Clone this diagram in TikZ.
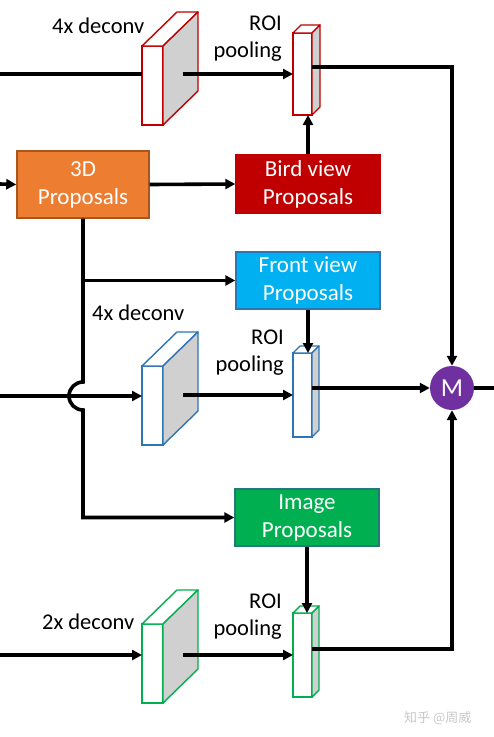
\documentclass[tikz,border=0pt]{standalone}
\usepackage{fontspec}
\setmainfont{Carlito}
\newfontfamily\cjkfont{Noto Sans CJK SC}
\usetikzlibrary{arrows.meta}
\definecolor{redbox}{HTML}{C00000}
\definecolor{orangebox}{HTML}{ED7D31}
\definecolor{orangeedge}{HTML}{A8561E}
\definecolor{bluebox}{HTML}{00B0F0}
\definecolor{blueedge}{HTML}{2E75B6}
\definecolor{greenbox}{HTML}{00B050}
\definecolor{greenedge}{HTML}{22787A}
\definecolor{mpurple}{HTML}{7030A0}
\definecolor{sidegray}{HTML}{D0D0D0}
\definecolor{wmgray}{HTML}{C8C8C8}
\newcommand\mycuboid[8]{%
  \node[draw=#8, line width=1.4pt, fill=white, minimum width=#4pt, minimum height=#5pt, inner sep=0pt, outer sep=0pt] (#1) at (#2,#3) {};
  \filldraw[draw=#8, fill=white, line width=1.4pt, line join=round] (#1.north west) -- ++(#6,#7) -- ++(#4,0) -- (#1.north east) -- cycle;
  \filldraw[draw=#8, fill=sidegray, line width=1.4pt, line join=round] (#1.north east) -- ++(#6,#7) -- ++(0,#5) -- (#1.south east) -- cycle;
}
\tikzset{
  wire/.style={line width=3.6pt, line join=miter},
  arr/.style={wire, -{Triangle[length=10pt,width=10pt]}},
  prop/.style={minimum width=144pt, minimum height=58pt, inner sep=0pt, line width=1.4pt, text=white, align=center, font=\fontsize{23}{28}\selectfont},
  lbl/.style={font=\fontsize{22.5}{27}\selectfont, inner sep=0pt},
}
\begin{document}
\begin{tikzpicture}[x=1pt,y=-1pt]
\useasboundingbox (0,0) rectangle (494,737);
% proposals
\node[prop, fill=orangebox, draw=orangeedge, minimum width=132pt, minimum height=67pt] (p3d) at (83,184.5) {3D\\Proposals};
\node[prop, fill=redbox, draw=redbox] (bird) at (308,184) {Bird view\\Proposals};
\node[prop, fill=bluebox, draw=blueedge, minimum height=57pt] (front) at (308,280.5) {Front view\\Proposals};
\node[prop, fill=greenbox, draw=greenedge, minimum height=57pt] (image) at (307,517.5) {Image\\Proposals};
% merge
\node[circle, fill=mpurple, minimum size=44pt, inner sep=0pt, text=white, font=\fontsize{26}{30}\selectfont] (M) at (452,388) {M};
% cuboids
\mycuboid{d1}{152.5}{85.5}{21}{79}{35}{-34}{redbox}
\mycuboid{d2}{152.5}{405.5}{21}{79}{35}{-34}{blueedge}
\mycuboid{d3}{152.5}{663.5}{21}{79}{35}{-34}{greenbox}
\mycuboid{r1}{302.5}{74}{19}{82}{8}{-8}{redbox}
\mycuboid{r2}{302.5}{395}{19}{84}{7}{-7}{blueedge}
\mycuboid{r3}{302.5}{655}{19}{84}{7}{-7}{greenbox}
% labels
\node[lbl, anchor=base west] (l1) at (52,33) {4x deconv};
\node[lbl, anchor=base east, align=right] (l2) at (282,57) {ROI\\pooling};
\node[lbl, anchor=base west] (l3) at (92,320) {4x deconv};
\node[lbl, anchor=base east, align=right] (l4) at (284,371) {ROI\\pooling};
\node[lbl, anchor=base west] (l5) at (42,629) {2x deconv};
\node[lbl, anchor=base east, align=right] (l6) at (282,635) {ROI\\pooling};
\node[anchor=base west, inner sep=0pt, text=wmgray, font=\cjkfont\fontsize{13}{15}\selectfont] (wm) at (404,722) {知乎 @周威};
% coordinates
\coordinate (in1) at (0,74);
\coordinate (in0) at (0,184);
\coordinate (in2) at (0,396);
\coordinate (in3) at (0,655);
\coordinate (d1o) at (183,74);
\coordinate (d2o) at (183,395);
\coordinate (d3o) at (183,655);
\coordinate (hop1) at (83,382);
\coordinate (hop2) at (83,410);
\coordinate (out) at (494,388);
% top branch
\draw[wire] (in1) -- (in1 -| d1.west);
\draw[arr] (d1o) -- (d1o -| r1.west);
\draw[arr] ([yshift=7pt]r1.east) -| (M.north);
\draw[arr] (bird.north) -- (bird.north |- r1.south);
% proposals
\draw[arr] (in0) -- (p3d.west);
\draw[arr] (p3d.east) -- (bird.west);
\draw[arr] (p3d.south) -- (hop1) arc[start angle=270, end angle=90, radius=14] -- (hop2) |- (image.west);
\draw[arr] (p3d.south |- front.west) -- (front.west);
\draw[arr] (front.south) -- (front.south |- r2.north);
% middle branch
\draw[arr] (in2) -- (in2 -| d2.west);
\draw[arr] (d2o) -- (d2o -| r2.west);
\draw[arr, line width=4.2pt] ([yshift=7pt]r2.east) -- (M.west);
\draw[wire] (M.east) -- (out);
% bottom branch
\draw[arr] (in3) -- (in3 -| d3.west);
\draw[arr] (d3o) -- (d3o -| r3.west);
\draw[arr] ([yshift=6pt]r3.east) -| (M.south);
\draw[arr] (image.south) -- (image.south |- r3.north);
\end{tikzpicture}
\end{document}
